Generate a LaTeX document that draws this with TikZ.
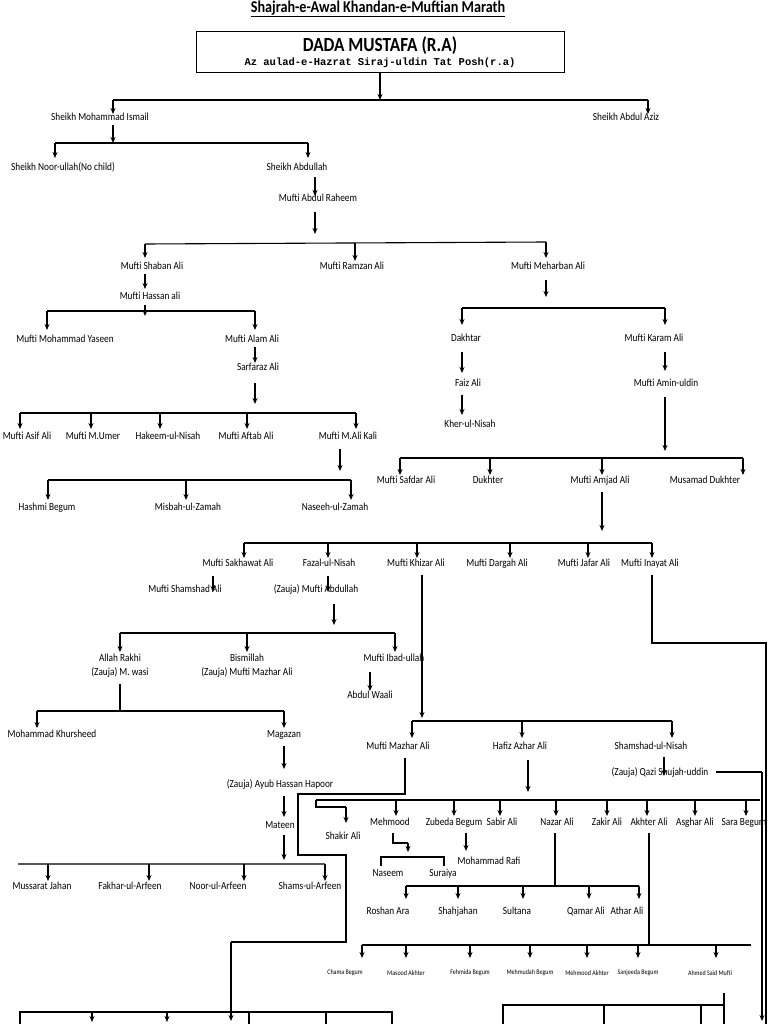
\documentclass[tikz,border=0pt]{standalone}
\usetikzlibrary{arrows.meta}
\usepackage{fontspec}
\setmainfont{Carlito}[FakeStretch=0.86]
\newfontfamily\monob{Liberation Mono}
\begin{document}
\begin{tikzpicture}[x=1pt,y=-1pt,
  lbl/.style={inner sep=0pt,text height=7pt,text depth=2pt,font=\fontsize{10.8}{12}\selectfont},
  tiny/.style={inner sep=0pt,font=\fontsize{7}{8}\selectfont},
  ln/.style={line width=1.1pt},
  arr/.style={line width=1.1pt,-{Stealth[length=6pt,width=5pt]}}]
\useasboundingbox (0,0) rectangle (768,1024);
\node[inner sep=0pt,font=\bfseries\fontsize{16.5}{17}\selectfont] (title) at (378,9) {\underline{Shajrah-e-Awal Khandan-e-Muftian Marath}};
\draw[line width=1pt] (196,32) rectangle (564,73);
\node[inner sep=0pt,font=\bfseries\fontsize{20}{21}\selectfont] (dada) at (380,46) {DADA MUSTAFA (R.A)};
\node[inner sep=0pt,font=\monob\bfseries\fontsize{10.5}{11}\selectfont] (sub) at (380,63) {Az aulad-e-Hazrat Siraj-uldin Tat Posh(r.a)};
% level 1
\draw[arr] (380,73) -- (380,100);
\draw[ln] (113,100) -- (648,100);
\draw[arr] (113,100) -- (113,114); \draw[arr] (648,100) -- (648,114);
\node[lbl] (smi) at (100,118) {Sheikh Mohammad Ismail};
\node[lbl] (saa) at (626,118) {Sheikh Abdul Aziz};
\draw[arr] (113,125) -- (113,143);
\draw[ln] (55,143) -- (308,143);
\draw[arr] (55,143) -- (55,158); \draw[arr] (308,143) -- (308,158);
\node[lbl] (snu) at (63,168) {Sheikh Noor-ullah(No child)};
\node[lbl] (sab) at (297,168) {Sheikh Abdullah};
\draw[arr] (315,177) -- (315,196);
\node[lbl] (mar) at (318,199) {Mufti Abdul Raheem};
\draw[arr] (315,212) -- (315,234);
\draw[ln] (145,244) -- (546,242);
\draw[arr] (145,244) -- (145,258); \draw[arr] (355,243) -- (355,261); \draw[arr] (546,242) -- (546,258);
\node[lbl] (msa) at (152,267) {Mufti Shaban Ali};
\node[lbl] (mra) at (352,267) {Mufti Ramzan Ali};
\node[lbl] (mma) at (548,267) {Mufti Meharban Ali};
% Shaban branch
\draw[arr] (145,274) -- (145,289);
\node[lbl] (mha) at (150,297) {Mufti Hassan ali};
\draw[ln] (47,311) -- (255,311);
\draw[arr] (145,305) -- (145,316);
\draw[arr] (47,311) -- (47,330); \draw[arr] (255,311) -- (255,330);
\node[lbl] (mmy) at (65,340) {Mufti Mohammad Yaseen};
\node[lbl] (maa) at (252,340) {Mufti Alam Ali};
\draw[arr] (255,347) -- (255,363);
\node[lbl] (sar) at (258,368) {Sarfaraz Ali};
\draw[arr] (255,383) -- (255,404);
\draw[ln] (20,413) -- (356,413);
\foreach \x in {20,91,160,247,356} \draw[arr] (\x,413) -- (\x,429);
\node[lbl] (asif) at (27,437) {Mufti Asif Ali};
\node[lbl] (umer) at (93,437) {Mufti M.Umer};
\node[lbl] (hak) at (168,437) {Hakeem-ul-Nisah};
\node[lbl] (aft) at (246,437) {Mufti Aftab Ali};
\node[lbl] (mak) at (348,437) {Mufti M.Ali Kali};
\draw[arr] (340,449) -- (340,471);
\draw[ln] (48,480) -- (351,480);
\foreach \x in {48,186,351} \draw[arr] (\x,480) -- (\x,500);
\node[lbl] (hb) at (47,508) {Hashmi Begum};
\node[lbl] (mz) at (188,508) {Misbah-ul-Zamah};
\node[lbl] (nz) at (335,508) {Naseeh-ul-Zamah};
% Meharban branch
\draw[arr] (546,280) -- (546,297);
\draw[ln] (462,308) -- (665,308);
\draw[arr] (462,308) -- (462,325); \draw[arr] (665,308) -- (665,325);
\node[lbl] (dak) at (466,339) {Dakhtar};
\node[lbl] (mka) at (654,339) {Mufti Karam Ali};
\draw[arr] (462,352) -- (462,373);
\node[lbl] (fa) at (468,384) {Faiz Ali};
\draw[arr] (462,395) -- (462,415);
\node[lbl] (ken) at (470,425) {Kher-ul-Nisah};
\draw[arr] (665,352) -- (665,371);
\node[lbl] (mau) at (666,384) {Mufti Amin-uldin};
\draw[arr] (665,397) -- (665,451);
\draw[ln] (400,458) -- (743,458);
\foreach \x in {400,490,602,743} \draw[arr] (\x,458) -- (\x,475);
\node[lbl] (msf) at (406,481) {Mufti Safdar Ali};
\node[lbl] (dk) at (488,481) {Dukhter};
\node[lbl] (mam) at (600,481) {Mufti Amjad Ali};
\node[lbl] (mdk) at (705,481) {Musamad Dukhter};
\draw[arr] (602,492) -- (602,531);
\draw[ln] (244,543) -- (652,543);
\foreach \x in {244,328,417,510,588,652} \draw[arr] (\x,543) -- (\x,558);
\node[lbl] (msk) at (238,564) {Mufti Sakhawat Ali};
\node[lbl] (fzn) at (329,564) {Fazal-ul-Nisah};
\node[lbl] (mkz) at (416,564) {Mufti Khizar Ali};
\node[lbl] (mdg) at (497,564) {Mufti Dargah Ali};
\node[lbl] (mjf) at (584,564) {Mufti Jafar Ali};
\node[lbl] (mia) at (650,564) {Mufti Inayat Ali};
\draw[arr] (213,576) -- (213,592);
\node[lbl] (msh) at (185,590) {Mufti Shamshad Ali};
\draw[arr] (328,576) -- (328,592);
\node[lbl] (zma) at (316,590) {(Zauja) Mufti Abdullah};
\draw[arr] (334,604) -- (334,625);
\draw[ln] (120,633) -- (395,633);
\foreach \x in {120,247,395} \draw[arr] (\x,633) -- (\x,652);
\node[lbl] (ar) at (120,659) {Allah Rakhi};
\node[lbl] (arz) at (120,673) {(Zauja) M. wasi};
\node[lbl] (bis) at (247,659) {Bismillah};
\node[lbl] (bisz) at (247,673) {(Zauja) Mufti Mazhar Ali};
\node[lbl] (mib) at (394,659) {Mufti Ibad-ullah};
\draw[arr] (370,672) -- (370,691);
\node[lbl] (aw) at (370,696) {Abdul Waali};
\draw[ln] (120,684) -- (120,711);
\draw[ln] (37,711) -- (284,711);
\draw[arr] (37,711) -- (37,728); \draw[arr] (284,711) -- (284,728);
\node[lbl] (mkh) at (52,735) {Mohammad Khursheed};
\node[lbl] (mag) at (284,735) {Magazan};
\draw[arr] (284,746) -- (284,769);
\node[lbl] (ahh) at (280,785) {(Zauja) Ayub Hassan Hapoor};
\draw[arr] (284,796) -- (284,817);
\node[lbl] (mat) at (280,826) {Mateen};
\draw[arr] (284,835) -- (284,860);
\draw[ln,gray!70!black] (18,864) -- (325,864);
\foreach \x in {48,149,244,325} \draw[arr] (\x,864) -- (\x,881);
\node[lbl] (mj) at (42,887) {Mussarat Jahan};
\node[lbl] (fa2) at (130,887) {Fakhar-ul-Arfeen};
\node[lbl] (na) at (218,887) {Noor-ul-Arfeen};
\node[lbl] (sa2) at (310,887) {Shams-ul-Arfeen};
% Khizar branch
\draw[arr] (422,575) -- (422,718);
\draw[ln] (412,721) -- (672,721);
\foreach \x in {412,522,672} \draw[arr] (\x,721) -- (\x,738);
\node[lbl] (mmz) at (398,747) {Mufti Mazhar Ali};
\node[lbl] (haa) at (520,747) {Hafiz Azhar Ali};
\node[lbl] (sun) at (651,747) {Shamshad-ul-Nisah};
\draw[arr] (664,757) -- (664,776);
\node[lbl] (qsu) at (660,773) {(Zauja) Qazi Shujah-uddin};
\draw[ln] (716,772) -- (762,772);
\draw[arr] (762,772) -- (762,1021);
% Inayat line
\draw[ln] (652,575) -- (652,643) -- (766,643) -- (766,1024);
% Mazhar route
\draw[ln] (405,758) -- (405,794) -- (298,794) -- (298,855) -- (346,855) -- (346,942) -- (231,942);
\draw[arr] (231,942) -- (231,1021);
% Hafiz children
\draw[arr] (528,760) -- (528,792);
\draw[ln] (316,800) -- (760,800);
\draw[ln] (316,800) -- (316,807) -- (346,807);
\draw[arr] (346,807) -- (346,823);
\foreach \x in {396,454,500,556,607,647,695,746} \draw[arr] (\x,800) -- (\x,816);
\node[lbl] (shk) at (343,837) {Shakir Ali};
\node[lbl] (meh) at (390,823) {Mehmood};
\node[lbl] (zub) at (454,823) {Zubeda Begum};
\node[lbl] (sab2) at (502,823) {Sabir Ali};
\node[lbl] (naz) at (557,823) {Nazar Ali};
\node[lbl] (zak) at (607,823) {Zakir Ali};
\node[lbl] (akh) at (649,823) {Akhter Ali};
\node[lbl] (asg) at (695,823) {Asghar Ali};
\node[lbl] (sbg) at (744,823) {Sara Begum};
\draw[ln] (393,833) -- (393,843) -- (408,843);
\draw[arr] (408,843) -- (408,852);
\draw[ln] (381,866) -- (381,857) -- (444,857) -- (444,866);
\node[lbl] (nsm) at (388,874) {Naseem};
\node[lbl] (sry) at (443,874) {Suraiya};
\draw[arr] (466,833) -- (466,851);
\node[lbl] (mrf) at (489,862) {Mohammad Rafi};
\draw[ln] (555,833) -- (555,886);
\draw[ln] (406,886) -- (639,886);
\foreach \x in {406,458,523,589,639} \draw[arr] (\x,886) -- (\x,899);
\node[lbl] (ra) at (388,912) {Roshan Ara};
\node[lbl] (shj) at (458,912) {Shahjahan};
\node[lbl] (sul) at (517,912) {Sultana};
\node[lbl] (qa) at (586,912) {Qamar Ali};
\node[lbl] (ath) at (627,912) {Athar Ali};
\draw[ln] (649,833) -- (649,945);
\draw[ln] (362,945) -- (751,945);
\foreach \x in {362,406,470,530,587,638,716} \draw[arr] (\x,945) -- (\x,958);
\node[tiny] (cb) at (345,973) {Chama Begum};
\node[tiny] (msk2) at (406,973) {Masood Akhter};
\node[tiny] (fb) at (470,973) {Fehmida Begum};
\node[tiny] (mhb) at (530,973) {Mehmudah Begum};
\node[tiny] (mha2) at (587,973) {Mehmood Akhter};
\node[tiny] (sjb) at (638,973) {Sanjeeda Begum};
\node[tiny] (asm) at (710,973) {Ahmed Said Mufti};
% bottom right
\draw[ln] (724,993) -- (724,1024);
\draw[ln] (503,1024) -- (503,1005) -- (724,1005);
\draw[ln] (604,1005) -- (604,1024); \draw[ln] (701,1005) -- (701,1024);
% bottom left
\draw[ln] (20,1024) -- (20,1012) -- (392,1012) -- (392,1024);
\foreach \x in {92,167} \draw[arr] (\x,1012) -- (\x,1022);
\draw[ln] (249,1012) -- (249,1024); \draw[ln] (326,1012) -- (326,1024);
\end{tikzpicture}
\end{document}
